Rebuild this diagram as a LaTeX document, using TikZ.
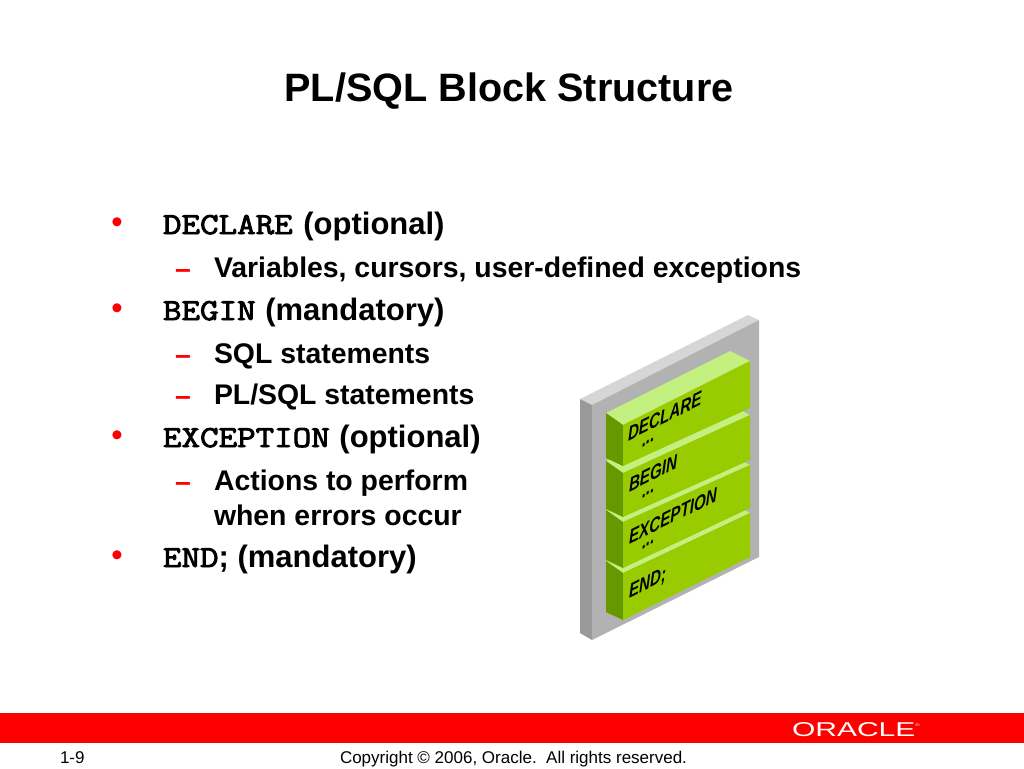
\documentclass[tikz,border=0pt]{standalone}
\usepackage{fontspec}
\setmainfont{Liberation Sans}
\newfontfamily\codefont[FakeBold=3,FakeStretch=1.18]{Latin Modern Mono}
\definecolor{oraclered}{HTML}{FF0000}
\definecolor{platefront}{HTML}{B2B2B2}
\definecolor{plateside}{HTML}{999999}
\definecolor{platetop}{HTML}{D6D6D6}
\definecolor{slabfront}{HTML}{99CC00}
\definecolor{slabside}{HTML}{669900}
\definecolor{slabtop}{HTML}{C4F080}
\newcommand{\px}[1]{\fontsize{#1}{#1}\selectfont}
\newcommand{\codeword}[1]{{\codefont\px{30.5}#1}}
\tikzset{
  every node/.style={inner sep=0pt,outer sep=0pt,anchor=base west},
  headline/.style={font=\bfseries\px{39.6},anchor=base},
  itemone/.style={font=\bfseries\px{31}},
  itemtwo/.style={font=\bfseries\px{28.4}},
  dotmark/.style={font=\bfseries\px{31},text=oraclered,anchor=base},
  dashmark/.style={font=\bfseries\px{28.3},text=oraclered},
  slabtext/.style={font=\itshape\bfseries\px{20},yslant=0.49,xscale=0.76,transform shape},
  footer/.style={font=\px{17}}
}
\begin{document}
\begin{tikzpicture}[x=1pt,y=-1pt]
\useasboundingbox (0,0) rectangle (1024,768);
\fill[oraclered] (0,713) rectangle (1024,743);
% back plate
\fill[platetop] (580,399) -- (748,315) -- (759,320) -- (592,405) -- cycle;
\fill[plateside] (580,399) -- (592,405) -- (592,640) -- (580,633) -- cycle;
\fill[platefront] (592,405) -- (759,320) -- (759,557) -- (592,640) -- cycle;
% slabs, lowest first
\foreach \slabtopy/\slabtopr/\slabboty/\slabbotr in {573/513/620/557,522/465/568/508,473/415/517/460,425/361/466/408}
{
  \fill[slabtop] (606,\slabtopy-12) -- (623,\slabtopy) -- (750,\slabtopr) -- (730,\slabtopr-10) -- cycle;
  \fill[slabside] (606,\slabtopy-12) -- (623,\slabtopy) -- (623,\slabboty) -- (606,\slabboty-8) -- cycle;
  \fill[slabfront] (623,\slabtopy) -- (750,\slabtopr) -- (750,\slabbotr) -- (623,\slabboty) -- cycle;
}
\node[slabtext] (declareslab) at (628,441) {DECLARE};
\node[slabtext] (declaredots) at (642,447) {...};
\node[slabtext] (beginslab) at (629,492) {BEGIN};
\node[slabtext] (begindots) at (642,498) {...};
\node[slabtext] (exceptionslab) at (629,544) {EXCEPTION};
\node[slabtext] (exceptiondots) at (642,549) {...};
\node[slabtext] (endslab) at (629,598) {END;};
% text
\node[headline] (title) at (509,101) {PL/SQL Block Structure};
\node[dotmark] (markdeclare) at (117,232) {•};
\node[dotmark] (markbegin) at (117,318) {•};
\node[dotmark] (markexception) at (117,445) {•};
\node[dotmark] (markend) at (117,565) {•};
\node[dashmark] (markvariables) at (175,278) {–};
\node[dashmark] (marksql) at (175,364) {–};
\node[dashmark] (markplsql) at (175,405) {–};
\node[dashmark] (markactions) at (175,491) {–};
\node[itemone] (declare) at (163,234) {\codeword{DECLARE}\hspace{2pt} (optional)};
\node[itemtwo] (variables) at (214,277) {Variables, cursors, user-defined exceptions};
\node[itemone] (begin) at (163,320) {\codeword{BEGIN}\hspace{1pt} (mandatory)};
\node[itemtwo] (sql) at (214,363) {SQL statements};
\node[itemtwo] (plsql) at (214,404) {PL/SQL statements};
\node[itemone] (exception) at (163,447) {\codeword{EXCEPTION}\hspace{1pt} (optional)};
\node[itemtwo] (actions) at (214,490) {Actions to perform};
\node[itemtwo] (errors) at (214,525) {when errors occur};
\node[itemone] (end) at (163,567) {\codeword{END}; (mandatory)};
% footer
\node[footer] (pagenum) at (60,763) {1-9};
\node[footer] (copyright) at (340,763) {Copyright © 2006, Oracle.\ \ All rights reserved.};
\node[font=\px{20},text=white,xscale=1.5,transform shape] (logo) at (792,736) {ORACLE{\px{4}\raisebox{10pt}{®}}};
\end{tikzpicture}
\end{document}
